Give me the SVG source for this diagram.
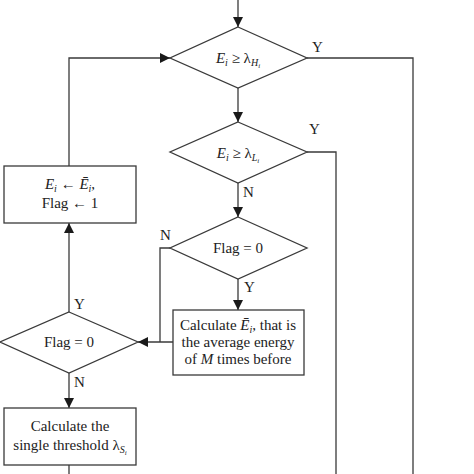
<svg xmlns="http://www.w3.org/2000/svg" width="474" height="474" viewBox="0 0 474 474">
<style>
.s{fill:none;stroke:#3a3a3a;stroke-width:1.3}
.n{fill:#fff;stroke:#3a3a3a;stroke-width:1.3}
text{font-family:"Liberation Serif","Times New Roman",serif;font-size:15px;fill:#222}
.c{text-anchor:middle}
.i{font-style:italic}
.sb{font-size:10px}
.ssb{font-size:7px}
</style>
<defs>
<marker id="ah" viewBox="0 0 10 10" refX="10" refY="5" markerWidth="10" markerHeight="10" markerUnits="userSpaceOnUse" orient="auto">
<path d="M0,0 L10,5 L0,10 Z" fill="#1a1a1a"/>
</marker>
</defs>
<rect width="474" height="474" fill="#fff"/>
<g id="connectors">
<path class="s" d="M238,0 V27" marker-end="url(#ah)"/>
<path class="s" d="M307,58 H413 V474"/>
<path class="s" d="M238,88 V122" marker-end="url(#ah)"/>
<path class="s" d="M307,152 H336 V474"/>
<path class="s" d="M238,183 V217" marker-end="url(#ah)"/>
<path class="s" d="M238,279 V310" marker-end="url(#ah)"/>
<path class="s" d="M170,248 H160 V342"/>
<path class="s" d="M173,342 H138" marker-end="url(#ah)"/>
<path class="s" d="M69,312 V223" marker-end="url(#ah)"/>
<path class="s" d="M69,166 V58 H170" marker-end="url(#ah)"/>
<path class="s" d="M69,373 V408" marker-end="url(#ah)"/>
<path class="s" d="M69,465 V474"/>
<text x="312" y="52">Y</text>
<text x="309" y="134">Y</text>
<text x="243" y="197">N</text>
<text x="160" y="240">N</text>
<text x="244" y="292">Y</text>
<text x="74" y="309">Y</text>
<text x="74" y="387">N</text>
</g>
<g id="d1">
<polygon class="n" points="238,27 307,58 238,88 170,58"/>
<text class="c" x="238" y="63"><tspan class="i">E</tspan><tspan class="i sb" dy="3">i</tspan><tspan dy="-3"> ≥ λ</tspan><tspan class="i sb" dy="3">H</tspan><tspan class="i ssb" dy="2">i</tspan></text>
</g>
<g id="d2">
<polygon class="n" points="238,122 307,152 238,183 170,152"/>
<text class="c" x="238" y="158"><tspan class="i">E</tspan><tspan class="i sb" dy="3">i</tspan><tspan dy="-3"> ≥ λ</tspan><tspan class="i sb" dy="3">L</tspan><tspan class="i ssb" dy="2">i</tspan></text>
</g>
<g id="d3">
<polygon class="n" points="238,217 307,248 238,279 170,248"/>
<text class="c" x="238" y="253">Flag = 0</text>
</g>
<g id="b1">
<rect class="n" x="173" y="310" width="131" height="65"/>
<text class="c" x="238" y="330">Calculate <tspan class="i">Ē</tspan><tspan class="i sb" dy="3">i</tspan><tspan dy="-3">, that is</tspan></text>
<text class="c" x="238" y="347">the average energy</text>
<text class="c" x="238" y="364">of <tspan class="i">M</tspan> times before</text>
</g>
<g id="b2">
<rect class="n" x="4" y="166" width="132" height="57"/>
<text class="c" x="70" y="189"><tspan class="i">E</tspan><tspan class="i sb" dy="3">i</tspan><tspan dy="-3"> ← </tspan><tspan class="i">Ē</tspan><tspan class="i sb" dy="3">i</tspan><tspan dy="-3">,</tspan></text>
<text class="c" x="70" y="208">Flag ← 1</text>
</g>
<g id="d4">
<polygon class="n" points="69,312 138,342 69,373 0,342"/>
<text class="c" x="69" y="347">Flag = 0</text>
</g>
<g id="b3">
<rect class="n" x="4" y="408" width="132" height="57"/>
<text class="c" x="70" y="431">Calculate the</text>
<text class="c" x="70" y="450">single threshold λ<tspan class="i sb" dy="3">S</tspan><tspan class="i ssb" dy="2">i</tspan></text>
</g>
</svg>
